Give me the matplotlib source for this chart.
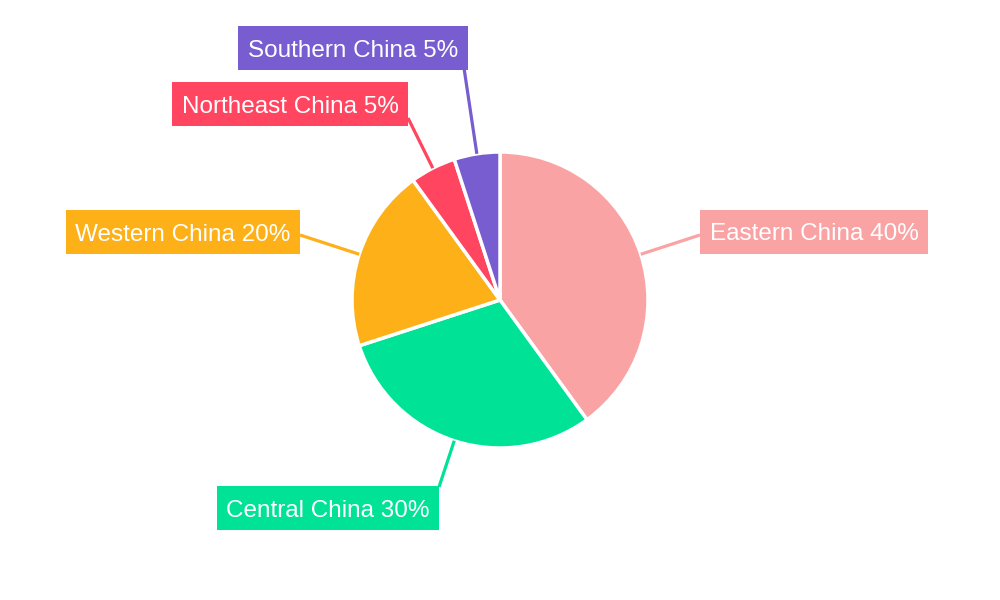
"""Regional share pie chart with boxed callout labels."""

import matplotlib

matplotlib.use("Agg")
import matplotlib.pyplot as plt
import numpy as np
from matplotlib.patches import Rectangle

plt.rcParams["font.family"] = ["Liberation Sans", "DejaVu Sans"]

regions = ["Eastern China", "Central China", "Western China", "Northeast China", "Southern China"]
shares = [40, 30, 20, 5, 5]
colors = ["#F9A3A4", "#00E396", "#FEB019", "#FF4560", "#775DD0"]

# layout (pixel space, y measured from the top of the figure)
label_centers = [(814, 231.5), (328, 508), (183, 232), (290, 104), (353, 48)]
line_ends = [(700, 235), (439, 487), (300, 235), (408, 118), (464, 68)]
center = (500, 300)
radius = 148
font_px = 24.2
box_h = 44
pad_x = 9.5

fig = plt.figure(figsize=(10, 6), dpi=100)
ax = fig.add_axes([0, 0, 1, 1])

cx, cy = center[0], 600 - center[1]
wedges, _ = ax.pie(
    shares,
    colors=colors,
    startangle=90,
    counterclock=False,
    center=(cx, cy),
    radius=radius,
    wedgeprops={"edgecolor": "white", "linewidth": 2.5},
    frame=True,
)
ax.set_xlim(0, 1000)
ax.set_ylim(0, 600)
ax.set_aspect("equal")
ax.axis("off")

renderer = fig.canvas.get_renderer()
cap = 0.716 * font_px

for wedge, name, share, color, (lx, ly), (ex, ey) in zip(
    wedges, regions, shares, colors, label_centers, line_ends
):
    mid = np.deg2rad((wedge.theta1 + wedge.theta2) / 2)
    sx = cx + radius * np.cos(mid)
    sy = cy + radius * np.sin(mid)
    ax.plot([sx, ex], [sy, 600 - ey], color=color, linewidth=2.3, solid_capstyle="butt", zorder=1)

    txt = ax.text(
        lx,
        600 - ly - cap / 2,
        f"{name} {share}%",
        ha="center",
        va="baseline",
        fontsize=font_px * 72 / 100,
        color="white",
        zorder=4,
    )
    w = txt.get_window_extent(renderer).width + 2 * pad_x
    ax.add_patch(
        Rectangle((lx - w / 2, 600 - ly - box_h / 2), w, box_h, facecolor=color, edgecolor="none", zorder=3)
    )

fig.savefig("out.png", dpi=100)
